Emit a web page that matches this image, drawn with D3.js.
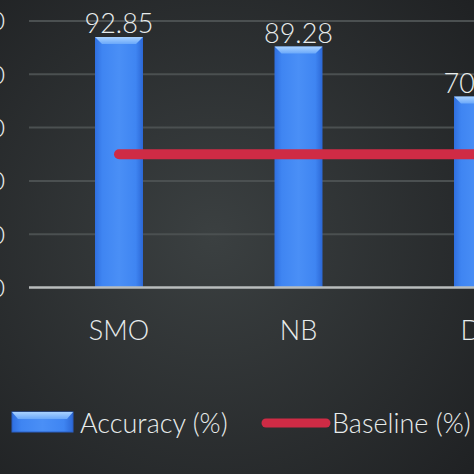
<!DOCTYPE html>
<html>
<head>
<meta charset="utf-8">
<script src="https://cdn.jsdelivr.net/npm/d3@7"></script>
<style>
  html, body { margin: 0; padding: 0; background: #26292b; }
  svg { display: block; }
  text { font-family: Lato, "Noto Sans", sans-serif; font-weight: 300; fill: #e8ecec; }
</style>
</head>
<body>
<script>
// chart values
const categories = ["SMO", "NB", "DT"];
const accuracy = [92.85, 89.28, 70.5];
const baseline = [50, 50, 50];
const yTicks = [0, 20, 40, 60, 80, 100];

const width = 474;
const height = 474;

const svg = d3.select("body")
  .append("svg")
  .attr("width", width)
  .attr("height", height);

const defs = svg.append("defs");

// dark background, a bit lighter toward the middle
const bg = defs.append("radialGradient")
  .attr("id", "bg")
  .attr("cx", "45%").attr("cy", "50%").attr("r", "75%");
bg.append("stop").attr("offset", "0%").attr("stop-color", "#3b4041");
bg.append("stop").attr("offset", "100%").attr("stop-color", "#1f2123");

// bar body, lighter in the middle
const barGrad = defs.append("linearGradient")
  .attr("id", "barGrad")
  .attr("x1", "0%").attr("x2", "100%").attr("y1", "0%").attr("y2", "0%");
barGrad.append("stop").attr("offset", "0%").attr("stop-color", "#2f6fe0");
barGrad.append("stop").attr("offset", "15%").attr("stop-color", "#3f85f2");
barGrad.append("stop").attr("offset", "50%").attr("stop-color", "#4a8ff6");
barGrad.append("stop").attr("offset", "85%").attr("stop-color", "#3f85f2");
barGrad.append("stop").attr("offset", "100%").attr("stop-color", "#2c68d6");

const bevelGrad = defs.append("linearGradient")
  .attr("id", "bevelGrad")
  .attr("x1", "0%").attr("x2", "0%").attr("y1", "0%").attr("y2", "100%");
bevelGrad.append("stop").attr("offset", "0%").attr("stop-color", "#a9d2ff");
bevelGrad.append("stop").attr("offset", "100%").attr("stop-color", "#6aa8fa");

svg.append("rect")
  .attr("width", width)
  .attr("height", height)
  .attr("fill", "url(#bg)");

// scales
const x = d3.scalePoint()
  .domain(categories)
  .range([119, 478]);

const y = d3.scaleLinear()
  .domain([0, 100])
  .range([287.5, 21]);

const barW = 48;
const bevel = 7;

// gridlines
svg.append("g")
  .selectAll("line")
  .data(yTicks.filter(d => d > 0))
  .join("line")
  .attr("x1", 29)
  .attr("x2", width)
  .attr("y1", d => y(d))
  .attr("y2", d => y(d))
  .attr("stroke", "#4b5051")
  .attr("stroke-width", 2);

// y tick labels (mostly cut off at the left edge, as in the source)
svg.append("g")
  .selectAll("text")
  .data(yTicks)
  .join("text")
  .attr("x", 5)
  .attr("y", d => y(d))
  .attr("dy", "0.36em")
  .attr("text-anchor", "end")
  .attr("font-size", 26)
  .text(d => d);

// bars
const bars = svg.append("g")
  .selectAll("g")
  .data(categories.map((c, i) => ({ c, v: accuracy[i] })))
  .join("g");

bars.append("rect")
  .attr("x", d => x(d.c) - barW / 2)
  .attr("y", d => y(d.v) - 3)
  .attr("width", barW)
  .attr("height", d => y(0) - y(d.v) + 3)
  .attr("fill", "url(#barGrad)");

bars.append("path")
  .attr("d", d => {
    const x0 = x(d.c) - barW / 2, x1 = x(d.c) + barW / 2, t = y(d.v) - 3;
    return `M${x0},${t}L${x1},${t}L${x1 - bevel},${t + bevel}L${x0 + bevel},${t + bevel}Z`;
  })
  .attr("fill", "url(#bevelGrad)");

// value labels
bars.append("text")
  .attr("x", d => x(d.c))
  .attr("y", d => y(d.v) - 7)
  .attr("text-anchor", "middle")
  .attr("font-size", 27)
  .text(d => d.v.toFixed(2));

// x axis line
svg.append("line")
  .attr("x1", 29)
  .attr("x2", width)
  .attr("y1", y(0))
  .attr("y2", y(0))
  .attr("stroke", "#b9bdbd")
  .attr("stroke-width", 2.5);

// category labels
svg.append("g")
  .selectAll("text")
  .data(categories)
  .join("text")
  .attr("x", d => x(d))
  .attr("y", 340)
  .attr("text-anchor", "middle")
  .attr("font-size", 27)
  .text(d => d);

// baseline line
const line = d3.line()
  .x((d, i) => x(categories[i]))
  .y(d => y(d));

svg.append("path")
  .datum(baseline)
  .attr("d", line)
  .attr("fill", "none")
  .attr("stroke", "#cf2b45")
  .attr("stroke-width", 10)
  .attr("stroke-linecap", "round");

// legend
const lg = svg.append("g");

lg.append("rect")
  .attr("x", 12).attr("y", 412)
  .attr("width", 61).attr("height", 20)
  .attr("fill", "url(#barGrad)")
  .attr("stroke", "#2a5fc4")
  .attr("stroke-width", 1);
lg.append("path")
  .attr("d", "M12,412L73,412L67,419L18,419Z")
  .attr("fill", "url(#bevelGrad)");
lg.append("text")
  .attr("x", 80).attr("y", 433)
  .attr("font-size", 27)
  .text("Accuracy (%)");

lg.append("line")
  .attr("x1", 266).attr("x2", 326)
  .attr("y1", 423).attr("y2", 423)
  .attr("stroke", "#cf2b45")
  .attr("stroke-width", 9)
  .attr("stroke-linecap", "round");
lg.append("text")
  .attr("x", 332).attr("y", 433)
  .attr("font-size", 27)
  .text("Baseline (%)");
</script>
</body>
</html>
